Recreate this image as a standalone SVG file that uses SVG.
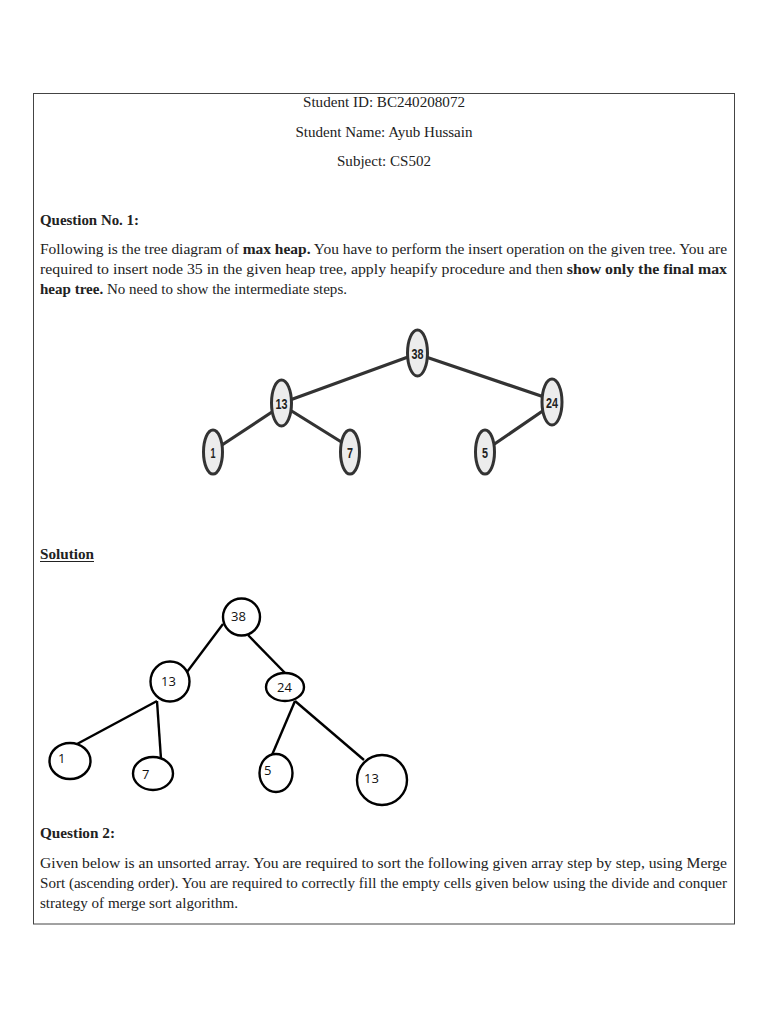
<svg xmlns="http://www.w3.org/2000/svg" width="768" height="1024" viewBox="0 0 768 1024">
<style>
.t{font-family:"Liberation Serif","Times New Roman",serif;font-size:15.5px;fill:#222}
.b{font-weight:bold}
.c{text-anchor:middle}
.e1{stroke:#333;stroke-width:3.2;fill:none;stroke-linecap:round}
.n1{fill:#ececec;stroke:#333;stroke-width:3}
.l1{font-family:"Liberation Sans",Arial,sans-serif;font-size:15px;fill:#222;text-anchor:middle;font-weight:bold}
.e2{stroke:#000;stroke-width:2.4;fill:none}
.n2{fill:#fff;stroke:#000;stroke-width:2.4}
.l2{font-family:"Open Sans","Noto Sans",sans-serif;font-size:13px;fill:#111}
</style>
<rect width="768" height="1024" fill="#fff"/>
<rect x="33.5" y="93.5" width="701" height="830.5" fill="none" stroke="#444" stroke-width="1"/>

<g id="header">
<text class="t c" x="384" y="107" textLength="162" lengthAdjust="spacingAndGlyphs">Student ID: BC240208072</text>
<text class="t c" x="384" y="137" textLength="177" lengthAdjust="spacingAndGlyphs">Student Name: Ayub Hussain</text>
<text class="t c" x="384" y="166" textLength="94" lengthAdjust="spacingAndGlyphs">Subject: CS502</text>
</g>

<g id="question1">
<text class="t b" x="40" y="225" textLength="99" lengthAdjust="spacingAndGlyphs">Question No. 1:</text>
<text class="t" x="40" y="254" textLength="687" lengthAdjust="spacingAndGlyphs">Following is the tree diagram of <tspan class="b">max heap.</tspan> You have to perform the insert operation on the given tree. You are</text>
<text class="t" x="40" y="274" textLength="687" lengthAdjust="spacingAndGlyphs">required to insert node 35 in the given heap tree, apply heapify procedure and then <tspan class="b">show only the final max</tspan></text>
<text class="t" x="40" y="294" textLength="307" lengthAdjust="spacingAndGlyphs"><tspan class="b">heap tree.</tspan> No need to show the intermediate steps.</text>
</g>

<g id="given-tree">
<g id="given-edges">
<line class="e1" x1="408" y1="357" x2="290" y2="400"/>
<line class="e1" x1="426" y1="357" x2="547" y2="398"/>
<line class="e1" x1="275" y1="410" x2="222" y2="445"/>
<line class="e1" x1="290" y1="410" x2="343" y2="443"/>
<line class="e1" x1="547" y1="408" x2="493" y2="445"/>
</g>
<g id="g38"><ellipse class="n1" cx="417.5" cy="353" rx="10" ry="23"/><text class="l1" x="417.5" y="358.5" textLength="12" lengthAdjust="spacingAndGlyphs">38</text></g>
<g id="g13"><ellipse class="n1" cx="281.5" cy="403" rx="10" ry="23"/><text class="l1" x="281.5" y="408.5" textLength="12" lengthAdjust="spacingAndGlyphs">13</text></g>
<g id="g24"><ellipse class="n1" cx="552" cy="402" rx="10" ry="23"/><text class="l1" x="552" y="407.5" textLength="12" lengthAdjust="spacingAndGlyphs">24</text></g>
<g id="g1"><ellipse class="n1" cx="213" cy="452" rx="9.5" ry="22"/><text class="l1" x="213" y="457.5" textLength="5" lengthAdjust="spacingAndGlyphs">1</text></g>
<g id="g7"><ellipse class="n1" cx="350" cy="452" rx="9.5" ry="22"/><text class="l1" x="350" y="457.5" textLength="6" lengthAdjust="spacingAndGlyphs">7</text></g>
<g id="g5"><ellipse class="n1" cx="485" cy="452" rx="9.5" ry="22"/><text class="l1" x="485" y="457.5" textLength="6" lengthAdjust="spacingAndGlyphs">5</text></g>
</g>

<g id="solution-label">
<text class="t b" x="40" y="559" textLength="54" lengthAdjust="spacingAndGlyphs">Solution</text>
<line x1="40" y1="561.5" x2="94" y2="561.5" stroke="#222" stroke-width="1"/>
</g>

<g id="solution-tree">
<g id="connectors">
<line class="e2" x1="223" y1="624" x2="187" y2="672"/>
<line class="e2" x1="248" y1="635" x2="286" y2="674"/>
<line class="e2" x1="157" y1="701" x2="77" y2="744"/>
<line class="e2" x1="157" y1="701" x2="161" y2="759"/>
<line class="e2" x1="295" y1="701" x2="272" y2="755"/>
<line class="e2" x1="295" y1="701" x2="364" y2="760"/>
</g>
<g id="s38"><ellipse class="n2" cx="241.5" cy="617" rx="18.5" ry="18.5"/><text class="l2" x="231" y="621">38</text></g>
<g id="s13"><ellipse class="n2" cx="170" cy="681.5" rx="19.5" ry="20"/><text class="l2" x="161" y="686">13</text></g>
<g id="s24"><ellipse class="n2" cx="285" cy="687" rx="19" ry="14"/><text class="l2" x="277" y="692">24</text></g>
<g id="s1"><ellipse class="n2" cx="70" cy="761" rx="20.5" ry="18"/><text class="l2" x="58" y="763">1</text></g>
<g id="s7"><ellipse class="n2" cx="153" cy="773.5" rx="20" ry="16.5"/><text class="l2" x="142" y="779">7</text></g>
<g id="s5"><ellipse class="n2" cx="276" cy="773" rx="16.5" ry="19"/><text class="l2" x="264" y="775">5</text></g>
<g id="s13b"><ellipse class="n2" cx="382" cy="780" rx="25" ry="25"/><text class="l2" x="364" y="783">13</text></g>
</g>

<g id="question2">
<text class="t b" x="40" y="838" textLength="75" lengthAdjust="spacingAndGlyphs">Question 2:</text>
<text class="t" x="40" y="868" textLength="687" lengthAdjust="spacingAndGlyphs">Given below is an unsorted array. You are required to sort the following given array step by step, using Merge</text>
<text class="t" x="40" y="888" textLength="687" lengthAdjust="spacingAndGlyphs">Sort (ascending order). You are required to correctly fill the empty cells given below using the divide and conquer</text>
<text class="t" x="40" y="908" textLength="198" lengthAdjust="spacingAndGlyphs">strategy of merge sort algorithm.</text>
</g>
</svg>
